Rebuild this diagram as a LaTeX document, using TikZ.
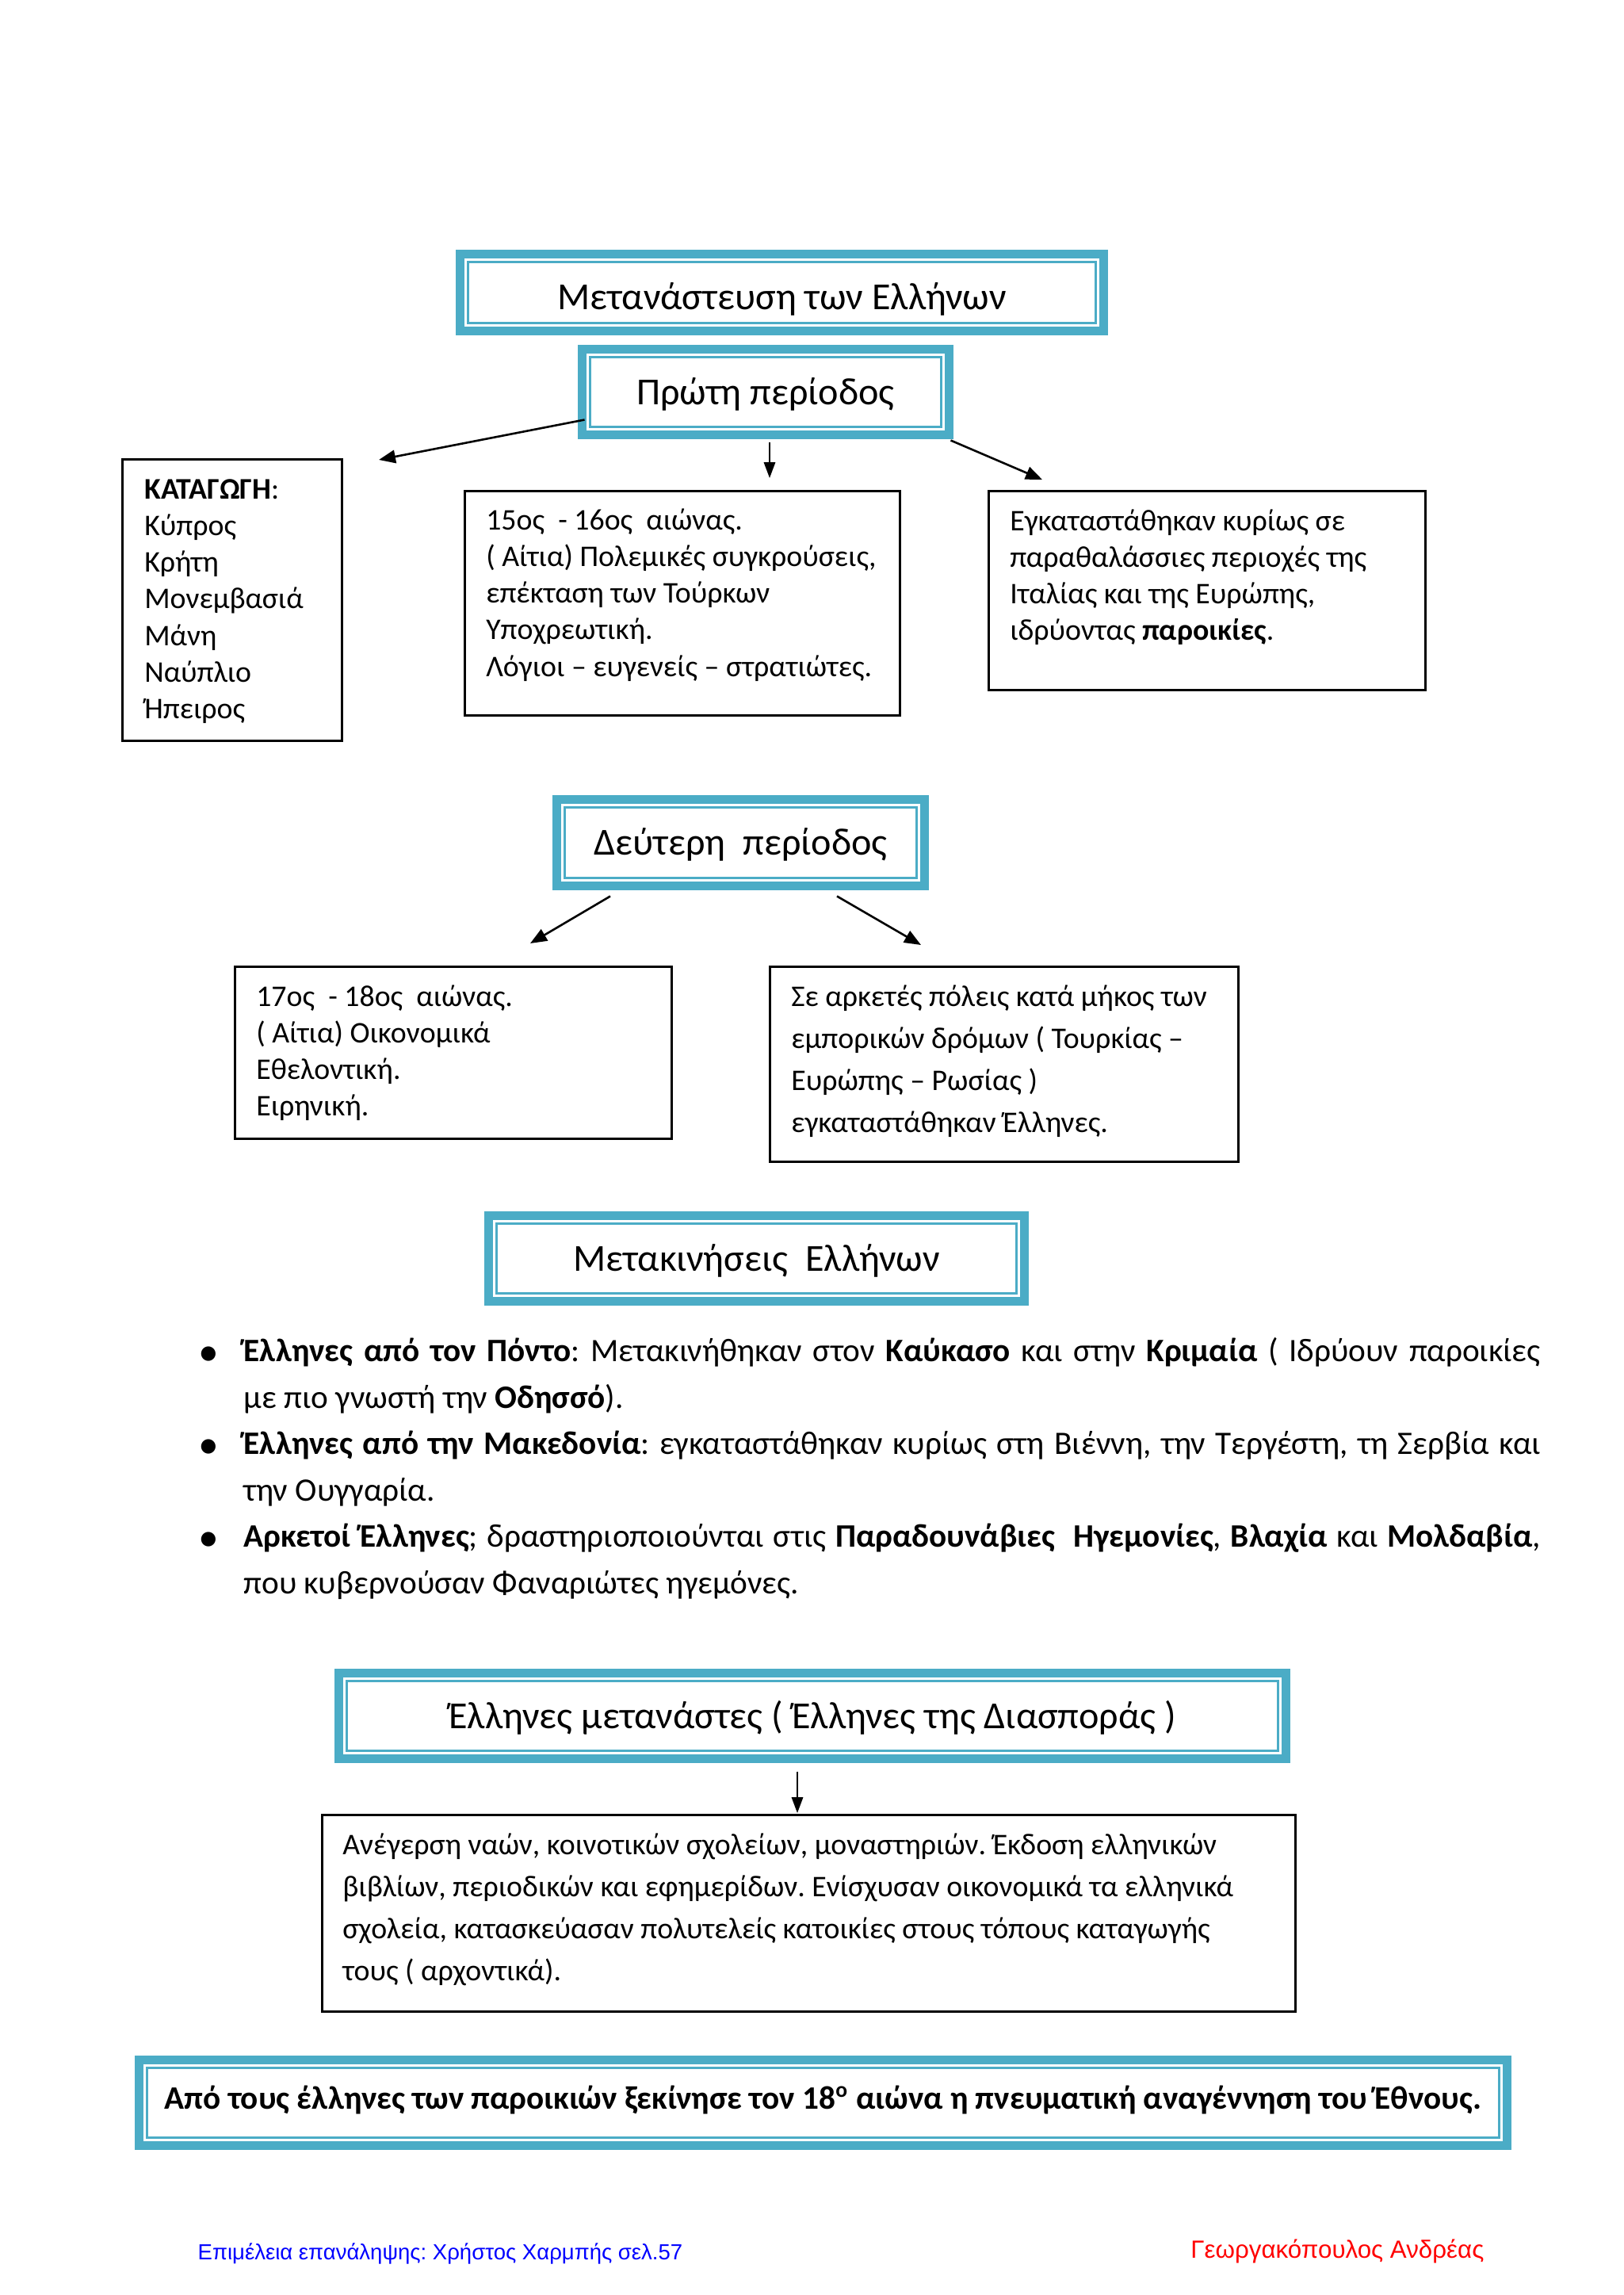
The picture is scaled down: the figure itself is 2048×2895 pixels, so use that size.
\documentclass[tikz,border=0pt]{standalone}
\usepackage{fontspec}
\setmainfont{Carlito}
\newfontfamily\arialf{Liberation Sans}
\usetikzlibrary{arrows.meta,calc}
\newlength\pxu
\setlength\pxu{0.29067pt}
\definecolor{tealc}{HTML}{4BACC6}
\frenchspacing
\tikzset{
  tbox/.style={draw=tealc, line width=3\pxu, fill=white, inner sep=0pt,
    font=\fontsize{14pt}{16pt}\selectfont, text depth=0pt,
    preaction={draw=tealc, line width=31\pxu},
    preaction={draw=white, line width=9\pxu}},
  bbox/.style={draw=black, line width=2.6\pxu, inner sep=0pt, anchor=north west,
    font=\fontsize{11pt}{13.43pt}\selectfont},
  arr/.style={draw=black, line width=2.6\pxu, -{Triangle[length=6.1pt,width=4.8pt]}},
  varr/.style={draw=black, line width=1.8\pxu, -{Triangle[length=5.8pt,width=4.2pt]}},
  foot/.style={inner sep=0pt, font=\arialf\fontsize{8pt}{9pt}\selectfont}
}
\newcommand\bul{\makebox[61\pxu][l]{\hspace*{4\pxu}\raisebox{-1.5pt}{\fontsize{15pt}{15pt}\selectfont •}}}
\begin{document}
\begin{tikzpicture}[x=0.29067pt, y=-0.29067pt]
\fill[white] (0,0) rectangle (2048,2895);
\useasboundingbox (0,0) rectangle (2048,2895);

% title boxes
\node[tbox, minimum width=792\pxu, minimum height=77\pxu, text height=42\pxu] (t1) at (986.5,369) {Μετανάστευση των Ελλήνων};
\node[tbox, minimum width=443\pxu, minimum height=88\pxu, text height=31\pxu] (t2) at (966,494.5) {Πρώτη περίοδος};
\node[tbox, minimum width=444\pxu, minimum height=89\pxu, text height=30\pxu] (t3) at (934.5,1063) {Δεύτερη\ \ περίοδος};
\node[tbox, minimum width=656\pxu, minimum height=88\pxu, text height=31\pxu] (t4) at (954.5,1587.5) {Μετακινήσεις\ \ Ελλήνων};
\node[tbox, minimum width=1175\pxu, minimum height=88\pxu, text height=31\pxu] (t5) at (1025,2164.5) {Έλληνες μετανάστες ( Έλληνες της Διασποράς )};
\node[tbox, minimum width=1706\pxu, minimum height=88\pxu, text height=15\pxu, font=\fontsize{12pt}{14pt}\selectfont\bfseries] (t6) at (1038.5,2652.5) {Από τους έλληνες των παροικιών ξεκίνησε τον 18\textsuperscript{o} αιώνα η πνευματική αναγέννηση του Έθνους.};

% body boxes
\node[bbox, minimum width=277\pxu, minimum height=355\pxu] (kat) at (153,578)
  {\parbox[c][355\pxu][t]{221\pxu}{\rule{0pt}{50\pxu}\textbf{ΚΑΤΑΓΩΓΗ}:\\Κύπρος\\Κρήτη\\Μονεμβασιά\\Μάνη\\Ναύπλιο\\Ήπειρος}};
\node[bbox, minimum width=549\pxu, minimum height=283\pxu] (p1) at (585,618)
  {\parbox[c][283\pxu][t]{495\pxu}{\rule{0pt}{49\pxu}15ος\ \ - 16ος\ \ αιώνας.\\( Αίτια) Πολεμικές συγκρούσεις,\\επέκταση των Τούρκων\\Υποχρεωτική.\\Λόγιοι – ευγενείς – στρατιώτες.}};
\node[bbox, minimum width=551\pxu, minimum height=251\pxu] (p2) at (1246,618)
  {\parbox[c][251\pxu][t]{497\pxu}{\rule{0pt}{50\pxu}Εγκαταστάθηκαν κυρίως σε\\παραθαλάσσιες περιοχές της\\Ιταλίας και της Ευρώπης,\\ιδρύοντας \textbf{παροικίες}.}};
\node[bbox, minimum width=551\pxu, minimum height=217\pxu] (d1) at (295,1218)
  {\parbox[c][217\pxu][t]{497\pxu}{\rule{0pt}{50\pxu}17ος\ \ - 18ος\ \ αιώνας.\\( Αίτια) Οικονομικά\\Εθελοντική.\\Ειρηνική.}};
\node[bbox, minimum width=591\pxu, minimum height=246\pxu, font=\fontsize{11pt}{15.4pt}\selectfont] (d2) at (970,1218)
  {\parbox[c][246\pxu][t]{537\pxu}{\rule{0pt}{50\pxu}Σε αρκετές πόλεις κατά μήκος των\\εμπορικών δρόμων ( Τουρκίας –\\Ευρώπης – Ρωσίας )\\εγκαταστάθηκαν Έλληνες.}};
\node[bbox, minimum width=1228\pxu, minimum height=248\pxu, font=\fontsize{11pt}{15.4pt}\selectfont] (an) at (405,2288)
  {\parbox[c][248\pxu][t]{1176\pxu}{\rule{0pt}{50\pxu}Ανέγερση ναών, κοινοτικών σχολείων, μοναστηριών. Έκδοση ελληνικών\\βιβλίων, περιοδικών και εφημερίδων. Ενίσχυσαν οικονομικά τα ελληνικά\\σχολεία, κατασκεύασαν πολυτελείς κατοικίες στους τόπους καταγωγής\\τους ( αρχοντικά).}};

% bullet list
\node[anchor=north west, inner sep=0pt, font=\fontsize{12pt}{17pt}\selectfont] (list) at (246,1677)
  {\parbox[t]{1697\pxu}{\setlength\parindent{0pt}\setlength\parskip{0pt}\sloppy
   \hangindent=61\pxu\hangafter=1\rule{0pt}{40\pxu}\bul\textbf{Έλληνες από τον Πόντο}: Μετακινήθηκαν στον \textbf{Καύκασο} και στην \textbf{Κριμαία} ( Ιδρύουν παροικίες\linebreak με πιο γνωστή την \textbf{Οδησσό}).\par
   \hangindent=61\pxu\hangafter=1\bul\textbf{Έλληνες από την Μακεδονία}: εγκαταστάθηκαν κυρίως στη Βιέννη, την Τεργέστη, τη Σερβία και\linebreak την Ουγγαρία.\par
   \hangindent=61\pxu\hangafter=1\bul\textbf{Αρκετοί Έλληνες}; δραστηριοποιούνται στις \textbf{Παραδουνάβιες\ \ Ηγεμονίες}, \textbf{Βλαχία} και \textbf{Μολδαβία},\linebreak που κυβερνούσαν Φαναριώτες ηγεμόνες.\par}};

% arrow end points
\coordinate (a1) at (478,580);
\coordinate (a2) at (971,603);
\coordinate (a3) at (1315,605);
\coordinate (a4) at (669,1190);
\coordinate (a5) at (1162,1192);
\coordinate (a6) at (1006,2287);

\draw[arr] ($(t2.south west)+(-5.5,-10.5)$) -- (a1);
\draw[varr] ($(t2.south)+(5,17.5)$) -- (a2);
\draw[arr] ($(t2.south east)+(10.5,15.5)$) -- (a3);
\draw[arr] ($(t3.south)+(-164.5,21.5)$) -- (a4);
\draw[arr] ($(t3.south)+(121.5,21.5)$) -- (a5);
\draw[varr] ($(t5.south)+(-19,24.5)$) -- (a6);

% footer
\node[foot, anchor=base west, text=blue] (f1) at (249,2850) {Επιμέλεια επανάληψης: Χρήστος Χαρμπής σελ.57};
\node[foot, anchor=base east, text=red, font=\arialf\fontsize{9.1pt}{11pt}\selectfont] (f2) at (1873,2848) {Γεωργακόπουλος Ανδρέας};
\end{tikzpicture}
\end{document}
